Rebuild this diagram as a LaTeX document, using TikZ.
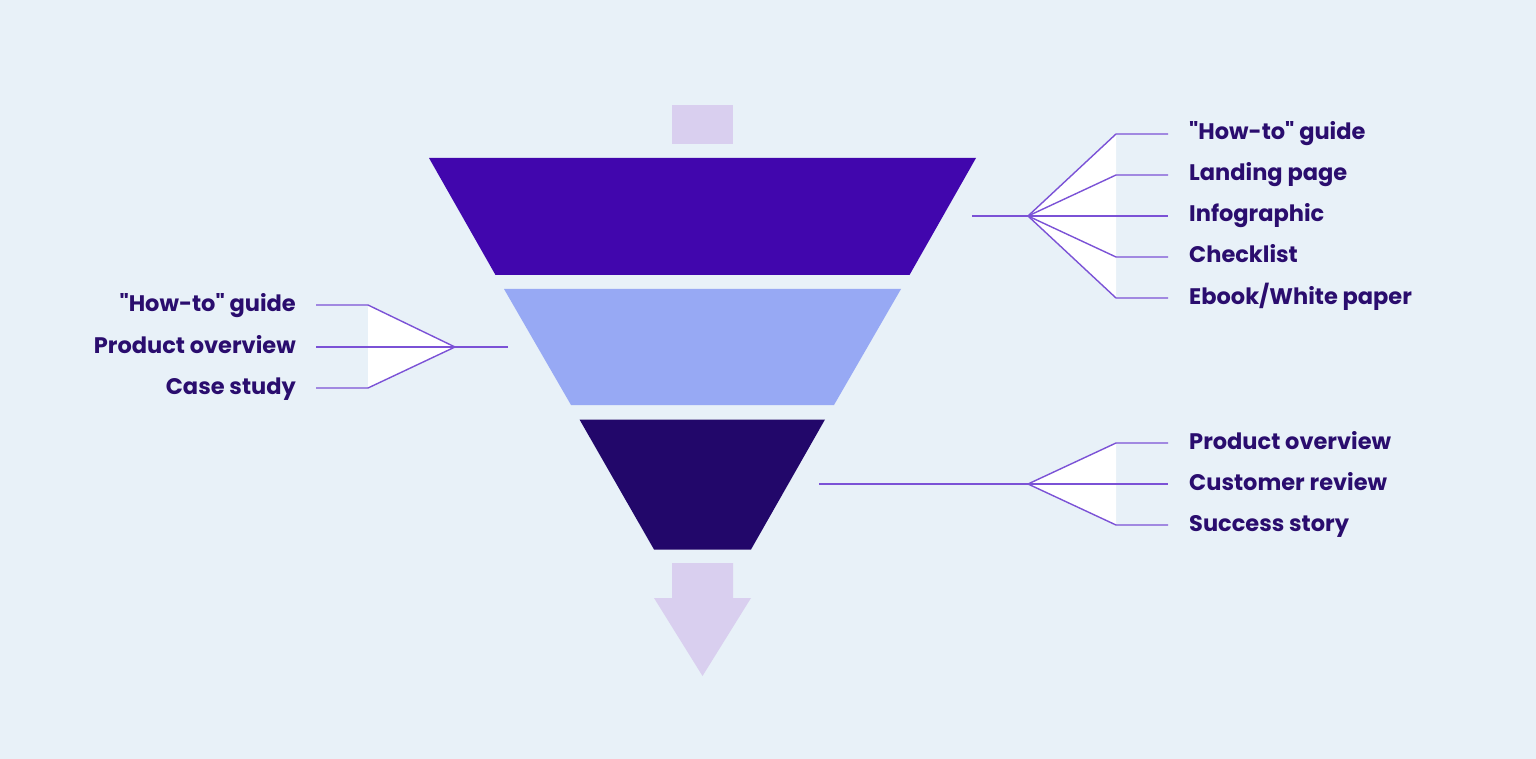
\documentclass[tikz,border=0pt]{standalone}
\usepackage{fontspec}
\setmainfont{Poppins}[Ligatures=TeXOff]
\definecolor{bg}{HTML}{E8F1F8}
\definecolor{fone}{HTML}{4106AD}
\definecolor{ftwo}{HTML}{97A9F4}
\definecolor{fthree}{HTML}{22076A}
\definecolor{lilac}{HTML}{D9CFEF}
\definecolor{conn}{HTML}{7B52D6}
\definecolor{txt}{HTML}{2A0D6E}
\tikzset{
  lbl/.style={inner sep=0pt, text=txt, font=\fontsize{22.5}{27}\selectfont\bfseries},
  conline/.style={draw=conn, line width=1.4pt, line join=round},
  wedge/.style={fill=white, draw=none}
}
\begin{document}
\begin{tikzpicture}[x=1pt,y=-1pt]
\useasboundingbox (0,0) rectangle (1536,759);
\fill[bg] (0,0) rectangle (1536,759);
% funnel
\fill[lilac] (672,105) rectangle (733,144);
\fill[fone] (429,158) -- (976,158) -- (909.5,275) -- (495.5,275) -- cycle;
\fill[ftwo] (504,289) -- (901,289) -- (834,405) -- (571,405) -- cycle;
\fill[fthree] (579.5,419.5) -- (825,419.5) -- (751,549.5) -- (654,549.5) -- cycle;
\fill[lilac] (672,563) -- (733,563) -- (733,598) -- (751,598) -- (702.5,676) -- (654,598) -- (672,598) -- cycle;

% top right bracket
\coordinate (sA) at (972,216);
\coordinate (hA) at (1028,216);
\coordinate (cA1) at (1116,134);
\coordinate (cA2) at (1116,175);
\coordinate (cA4) at (1116,257);
\coordinate (cA5) at (1116,298);
\fill[wedge] (hA) -- (cA1) -- (cA5) -- cycle;
\node[lbl, anchor=base west] (a1) at (1189,140) {"How-to" guide};
\node[lbl, anchor=base west] (a2) at (1189,181) {Landing page};
\node[lbl, anchor=base west] (a3) at (1189,222) {Infographic};
\node[lbl, anchor=base west] (a4) at (1189,263) {Checklist};
\node[lbl, anchor=base west] (a5) at (1189,304) {Ebook/White paper};
\coordinate (eA1) at (1168,134);
\coordinate (eA2) at (1168,175);
\coordinate (eA3) at (1168,216);
\coordinate (eA4) at (1168,257);
\coordinate (eA5) at (1168,298);
\draw[conline] (sA) -- (hA) -- (eA3);
\draw[conline] (hA) -- (cA1) -- (eA1);
\draw[conline] (hA) -- (cA2) -- (eA2);
\draw[conline] (hA) -- (cA4) -- (eA4);
\draw[conline] (hA) -- (cA5) -- (eA5);

% left bracket
\coordinate (sB) at (508,347);
\coordinate (hB) at (455,347);
\coordinate (cB1) at (368,305);
\coordinate (cB3) at (368,388);
\fill[wedge] (hB) -- (cB1) -- (cB3) -- cycle;
\node[lbl, anchor=base east] (b1) at (296,311) {"How-to" guide};
\node[lbl, anchor=base east] (b2) at (296,353) {Product overview};
\node[lbl, anchor=base east] (b3) at (296,394) {Case study};
\coordinate (eB1) at (316,305);
\coordinate (eB2) at (316,347);
\coordinate (eB3) at (316,388);
\draw[conline] (sB) -- (hB) -- (eB2);
\draw[conline] (hB) -- (cB1) -- (eB1);
\draw[conline] (hB) -- (cB3) -- (eB3);

% bottom right bracket
\coordinate (sC) at (819,484);
\coordinate (hC) at (1028,484);
\coordinate (cC1) at (1116,443);
\coordinate (cC3) at (1116,525);
\fill[wedge] (hC) -- (cC1) -- (cC3) -- cycle;
\node[lbl, anchor=base west] (c1) at (1189,449) {Product overview};
\node[lbl, anchor=base west] (c2) at (1189,490) {Customer review};
\node[lbl, anchor=base west] (c3) at (1189,531) {Success story};
\coordinate (eC1) at (1168,443);
\coordinate (eC2) at (1168,484);
\coordinate (eC3) at (1168,525);
\draw[conline] (sC) -- (hC) -- (eC2);
\draw[conline] (hC) -- (cC1) -- (eC1);
\draw[conline] (hC) -- (cC3) -- (eC3);
\end{tikzpicture}
\end{document}
